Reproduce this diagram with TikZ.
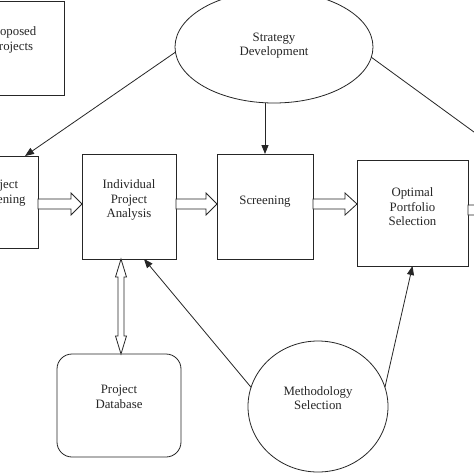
\documentclass[tikz,border=0pt]{standalone}
\usepackage{fontspec}
\setmainfont{Liberation Serif}
\usetikzlibrary{shapes.geometric,calc,arrows.meta}
\newcommand\blockarrow[5]{%
  \path (#1) coordinate (ba-s) (#2) coordinate (ba-t);
  \path ($(ba-t)!#5!(ba-s)$) coordinate (ba-h);
  \draw[hollow] ($(ba-s)!#3!90:(ba-t)$) -- ($(ba-h)!#3!-90:(ba-s)$) -- ($(ba-h)!#4!-90:(ba-s)$) -- (ba-t)
    -- ($(ba-h)!#4!90:(ba-s)$) -- ($(ba-h)!#3!90:(ba-s)$) -- ($(ba-s)!#3!-90:(ba-t)$) -- cycle;}
\tikzset{
  ln/.style={draw=black!85, line width=0.8pt},
  txt/.style={align=center, text=black!85, font=\fontsize{12.8}{14.5}\selectfont, inner sep=0pt},
  box/.style={ln, rectangle, inner sep=0pt, outer sep=0pt},
  oval/.style={ln, ellipse, inner sep=0pt, outer sep=0pt},
  hollow/.style={ln, fill=white, line join=miter},
  conn/.style={ln, -{Triangle[length=9pt,width=7pt]}},
}
\begin{document}
\begin{tikzpicture}[x=1pt,y=-1pt]
\useasboundingbox (0,0) rectangle (474,474);
\clip (0,0) rectangle (474,474);
\fill[white] (0,0) rectangle (474,474);

% nodes
\node[box, minimum width=103pt, minimum height=94pt,
  label={[txt, yshift=8pt]center:Proposed\\Projects}] (pp) at (12.5,48) {};
\node[box, minimum width=76pt, minimum height=92pt,
  label={[txt, yshift=9pt]center:Project\\Screening}] (ps) at (0,202) {};
\node[box, minimum width=94pt, minimum height=105pt,
  label={[txt, yshift=6.5pt]center:Individual\\Project\\Analysis}] (ipa) at (129,206.5) {};
\node[box, minimum width=96pt, minimum height=105pt,
  label={[txt, yshift=4.5pt]center:Screening}] (scr) at (265,206.5) {};
\node[box, minimum width=111pt, minimum height=106pt,
  label={[txt, yshift=6pt]center:Optimal\\Portfolio\\Selection}] (opt) at (412.5,213) {};
\node[box, rounded corners=15pt, minimum width=124pt, minimum height=103pt,
  label={[txt, yshift=8.5pt]center:Project\\Database}] (db) at (119,405.5) {};
\node[oval, minimum width=198pt, minimum height=112pt,
  label={[txt, yshift=1.5pt]center:Strategy\\Development}] (strat) at (274,47) {};
\node[oval, minimum width=140pt, minimum height=131pt,
  label={[txt, yshift=8.5pt]center:Methodology\\Selection}] (meth) at (318,406.5) {};

\coordinate (offr) at (500,151);
\coordinate (offo) at (510,210);

% thin connectors
\draw[conn] (strat.183) -- ($(ps.north east)+(-13,0)$);
\draw[conn] (scr.north |- strat.south) -- (scr.north);
\draw[ln] (strat.-6) -- (offr);
\draw[conn] (meth.164) -- ($(ipa.south)+(15,0)$);
\draw[conn] (meth.16) -- (opt.south);

% block arrows
\blockarrow{ps.east |- 0,204}{ipa.west |- 0,204}{5pt}{11pt}{11pt}
\blockarrow{ipa.east |- 0,204}{scr.west |- 0,204}{5pt}{11pt}{11pt}
\blockarrow{scr.east |- 0,204}{opt.west |- 0,204}{5pt}{11pt}{12pt}
\blockarrow{opt.east |- 0,210}{offo}{5pt}{11pt}{12pt}

% double block arrow
\coordinate (dbt) at ($(db.north)+(2,0)$);
\coordinate (ipb) at (dbt |- ipa.south);
\path ($(ipb)!18pt!(dbt)$) coordinate (hA) ($(dbt)!18pt!(ipb)$) coordinate (hB);
\draw[hollow] (ipb) -- ($(hA)!5.5pt!90:(dbt)$) -- ($(hA)!3pt!90:(dbt)$) -- ($(hB)!3pt!-90:(ipb)$)
  -- ($(hB)!5.5pt!-90:(ipb)$) -- (dbt) -- ($(hB)!5.5pt!90:(ipb)$) -- ($(hB)!3pt!90:(ipb)$)
  -- ($(hA)!3pt!-90:(dbt)$) -- ($(hA)!5.5pt!-90:(dbt)$) -- cycle;
\end{tikzpicture}
\end{document}
